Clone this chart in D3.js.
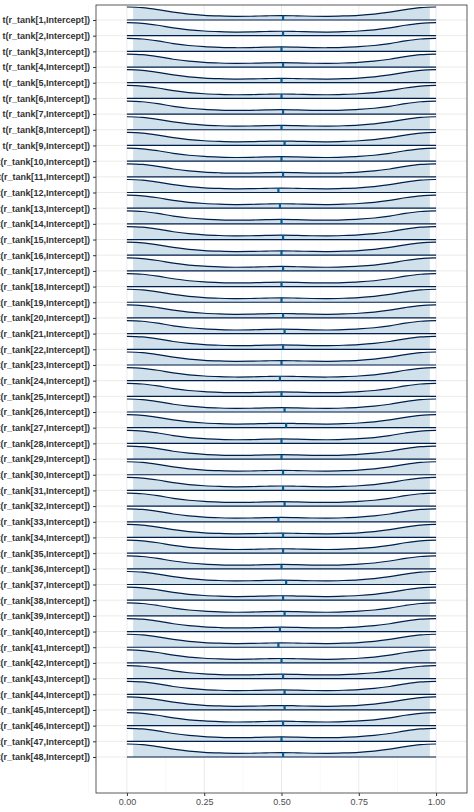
<!DOCTYPE html>
<html><head><meta charset="utf-8">
<script src="https://cdn.jsdelivr.net/npm/d3@7"></script>
<style>body{margin:0;background:#fff}text{font-family:"Liberation Sans",Arial,sans-serif}</style>
</head><body><div id="container"></div>
<script>
const params = d3.range(1, 49).map(i => `t(r_tank[${i},Intercept])`);
// density shape sampled on grid (relative height)
const gridX = [0,0.05,0.1,0.15,0.2,0.25,0.3,0.35,0.4,0.45,0.5,0.55,0.6,0.65,0.7,0.75,0.8,0.85,0.9,0.95,1];
const gridY = [1.0,0.95,0.8,0.6,0.45,0.36,0.31,0.28,0.29,0.32,0.34,0.32,0.29,0.28,0.31,0.36,0.45,0.6,0.8,0.95,1.0];
const medians = [0.505,0.505,0.50,0.505,0.50,0.50,0.505,0.50,0.51,0.50,0.505,0.49,0.495,0.50,0.505,0.50,0.505,0.50,0.50,0.505,0.51,0.505,0.50,0.495,0.50,0.51,0.515,0.50,0.50,0.505,0.505,0.51,0.49,0.505,0.505,0.50,0.515,0.505,0.51,0.495,0.49,0.50,0.505,0.51,0.51,0.505,0.50,0.505];
const interval = [0.02, 0.98];
const xTicks = [0, 0.25, 0.5, 0.75, 1];

const w = 474, h = 812;
const pLeft = 96, pRight = 467, pTop = 5, pBottom = 793;
const svg = d3.select("#container").append("svg").attr("width", w).attr("height", h);

const x = d3.scaleLinear().domain([-0.1, 1.1]).range([pLeft, pRight]);
const y = d3.scalePoint().domain(params).range([20, 757]);
const hScale = d3.scaleLinear().domain([0, 1]).range([0, 13]);

// grid
const g = svg.append("g");
d3.range(-0.125, 1.2, 0.25).forEach(v => g.append("line").attr("x1", x(v)).attr("x2", x(v)).attr("y1", pTop).attr("y2", pBottom).attr("stroke", "#f0f0f0").attr("stroke-width", 0.5));
xTicks.forEach(v => g.append("line").attr("x1", x(v)).attr("x2", x(v)).attr("y1", pTop).attr("y2", pBottom).attr("stroke", "#ebebeb").attr("stroke-width", 1));
params.forEach(p => g.append("line").attr("x1", pLeft).attr("x2", pRight).attr("y1", y(p)).attr("y2", y(p)).attr("stroke", "#ebebeb").attr("stroke-width", 1));

const pts = gridX.map((v, i) => [v, gridY[i]]);
const interp = v => {
  const i = Math.min(d3.bisectRight(gridX, v) - 1, gridX.length - 2);
  const t = (v - gridX[i]) / (gridX[i + 1] - gridX[i]);
  return gridY[i] + t * (gridY[i + 1] - gridY[i]);
};

params.forEach((p, k) => {
  const y0 = y(p);
  const area = d3.area().curve(d3.curveCatmullRom).x(d => x(d[0])).y0(y0).y1(d => y0 - hScale(d[1]));
  const line = d3.line().curve(d3.curveCatmullRom).x(d => x(d[0])).y(d => y0 - hScale(d[1]));
  const inner = [[interval[0], interp(interval[0])], ...pts.filter(d => d[0] > interval[0] && d[0] < interval[1]), [interval[1], interp(interval[1])]];
  svg.append("path").attr("d", area(inner)).attr("fill", "#d1e1ec");
  svg.append("path").attr("d", line(pts)).attr("fill", "none").attr("stroke", "#011f4b").attr("stroke-width", 1.2);
  svg.append("line").attr("x1", x(0)).attr("x2", x(1)).attr("y1", y0).attr("y2", y0).attr("stroke", "#011f4b").attr("stroke-width", 1.2);
  const m = medians[k];
  svg.append("line").attr("x1", x(m)).attr("x2", x(m)).attr("y1", y0).attr("y2", y0 - hScale(interp(m))).attr("stroke", "#005b96").attr("stroke-width", 2.2);
});

svg.append("rect").attr("x", pLeft).attr("y", pTop).attr("width", pRight - pLeft).attr("height", pBottom - pTop).attr("fill", "none").attr("stroke", "#333").attr("stroke-width", 0.8);

const yAxis = d3.axisLeft(y).tickSize(3).tickPadding(3);
svg.append("g").attr("transform", `translate(${pLeft},0)`).call(yAxis)
  .call(a => a.select(".domain").remove())
  .call(a => a.selectAll("line").attr("stroke", "#333"))
  .call(a => a.selectAll("text").attr("font-size", 9).attr("font-weight", "bold").attr("fill", "#333").attr("font-family", "Liberation Sans, Arial, sans-serif"));

const xAxis = d3.axisBottom(x).tickValues(xTicks).tickFormat(d3.format(".2f")).tickSize(3).tickPadding(3);
svg.append("g").attr("transform", `translate(0,${pBottom})`).call(xAxis)
  .call(a => a.select(".domain").remove())
  .call(a => a.selectAll("line").attr("stroke", "#333"))
  .call(a => a.selectAll("text").attr("font-size", 9).attr("fill", "#4d4d4d").attr("font-family", "Liberation Sans, Arial, sans-serif"));
</script></body></html>
